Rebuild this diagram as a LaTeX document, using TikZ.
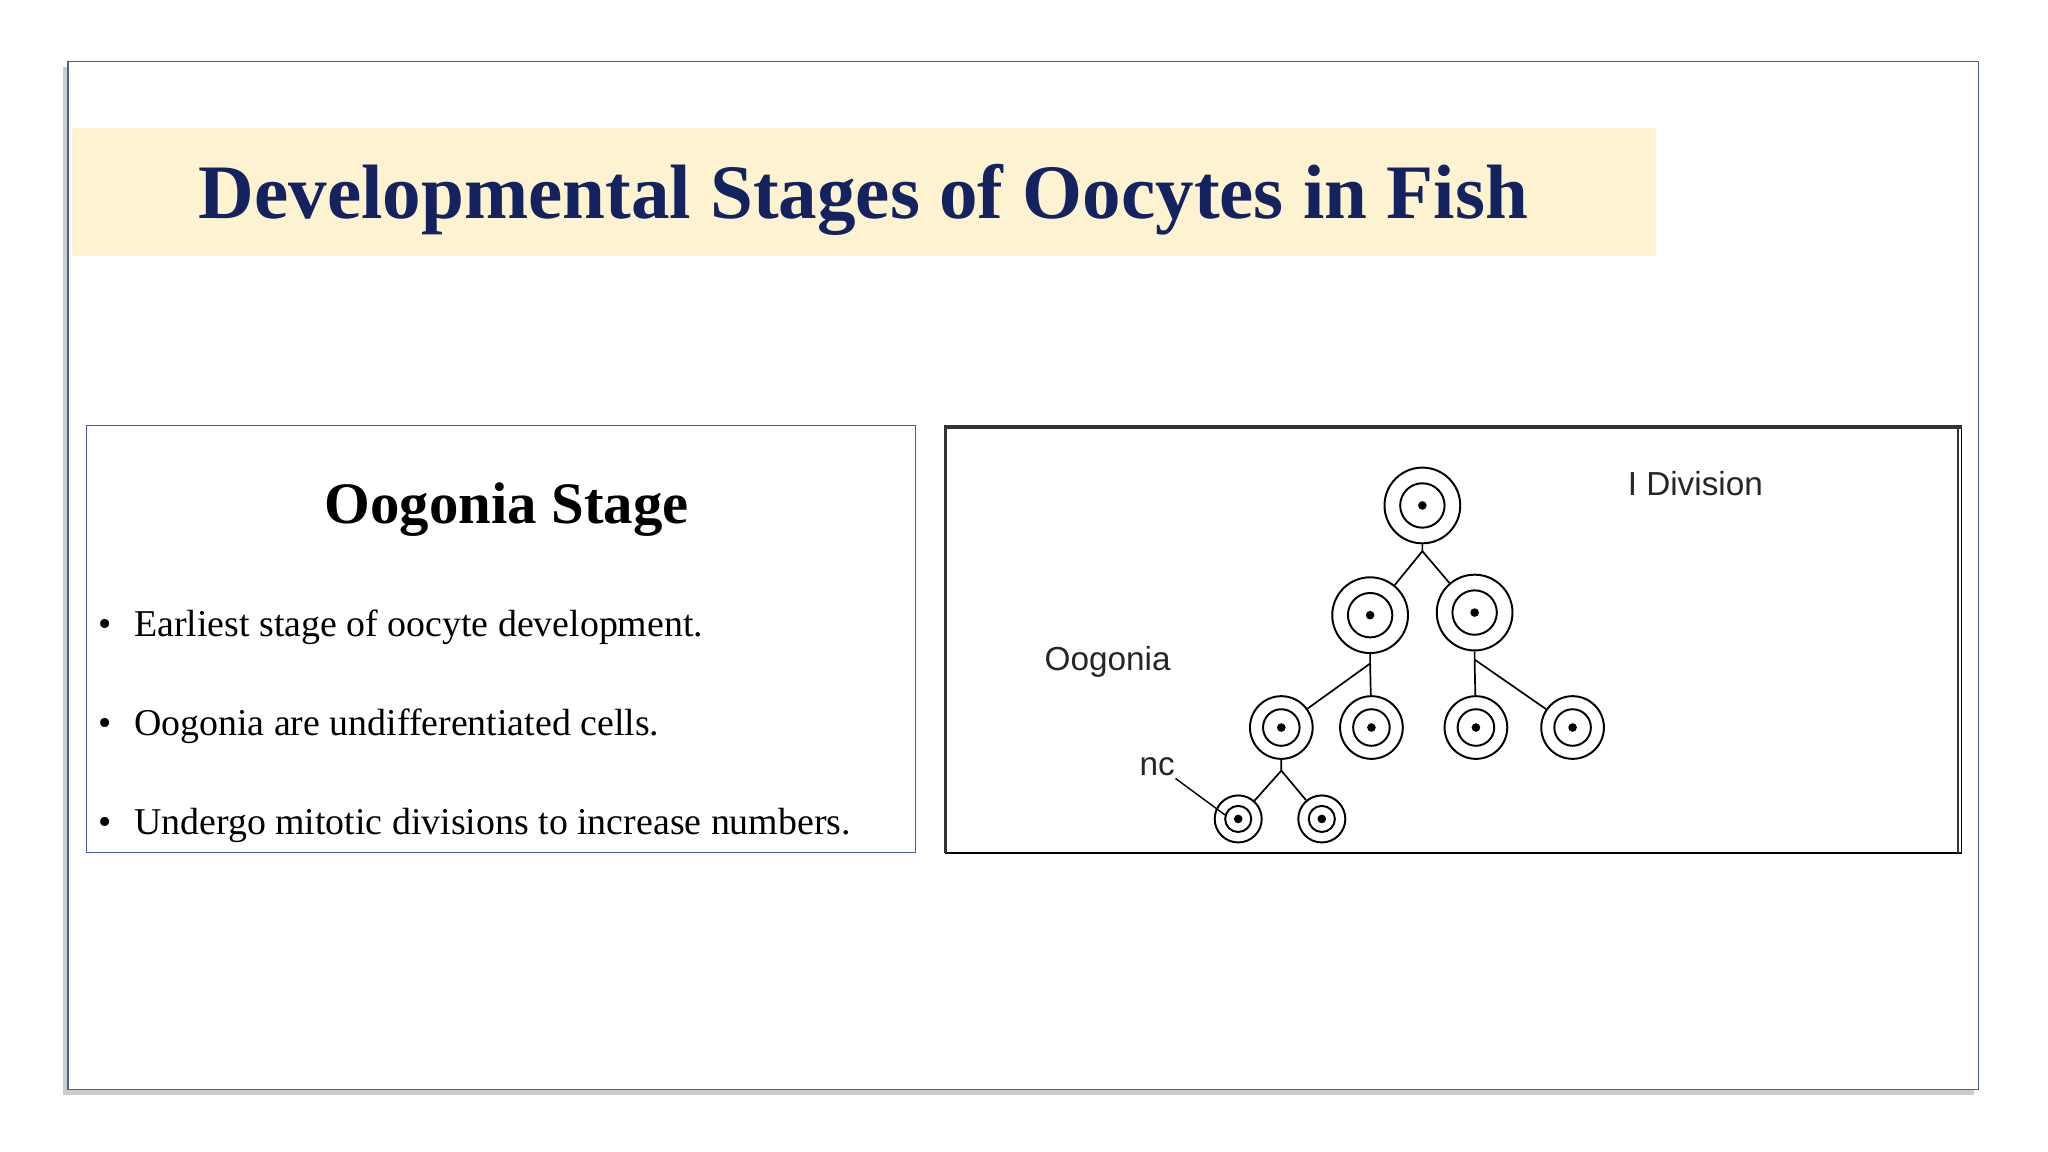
\documentclass[tikz,border=0pt]{standalone}
\usepackage{fontspec}
\setmainfont{Liberation Serif}
\newfontfamily\arialf{Liberation Sans}
\definecolor{navy}{RGB}{20,35,95}
\definecolor{band}{RGB}{253,243,208}
\definecolor{frameblue}{RGB}{70,95,160}
\tikzset{cellO/.style={circle,draw=black,line width=1.5pt,inner sep=0pt},
 lbl/.style={font=\arialf\fontsize{25.5}{30}\selectfont,text=black!85},
 bul/.style={anchor=west,font=\fontsize{29}{34}\selectfont}}
\newcommand{\cellat}[4]{% name, pos, outer radius, inner radius
 \node[cellO,minimum size=#3*2pt] (#1) at (#2) {};
 \node[cellO,minimum size=#4*2pt] at (#2) {};
 \fill (#2) circle (3.3pt);}
\begin{document}
\begin{tikzpicture}[x=1pt,y=-1pt]
\useasboundingbox (0,0) rectangle (1568,882);
\fill[black!20] (48,51) rectangle (1511,838);
\draw[frameblue,line width=1pt,fill=white] (52,47) rectangle (1515,834);
\fill[band] (55,98) rectangle (1268,196);
\node[font=\bfseries\fontsize{59}{66}\selectfont,text=navy] (title) at (661,153) {Developmental Stages of Oocytes in Fish};
\draw[frameblue,line width=0.8pt] (66,326) rectangle (701,653);
\node[font=\bfseries\fontsize{45}{52}\selectfont] (st) at (388,390) {Oogonia Stage};
\node[bul] (b1) at (72,480) {•\hspace{17pt}Earliest stage of oocyte development.};
\node[bul] (b2) at (72,556) {•\hspace{17pt}Oogonia are undifferentiated cells.};
\node[bul] (b3) at (72,632) {•\hspace{17pt}Undergo mitotic divisions to increase numbers.};
\draw[black,line width=1pt] (724,326) rectangle (1502,653);
\draw[black!80,line width=2.5pt] (724,653) -- (724,327) -- (1502,327);
\draw[black!80,line width=2pt] (1499,327) -- (1499,653);
\cellat{c0}{1089,387}{29}{17}
\cellat{c1}{1049,471}{29}{17}
\cellat{c2}{1129,469}{29}{17}
\cellat{c3}{981,557}{24}{14}
\cellat{c4}{1050,557}{24}{14}
\cellat{c5}{1130,557}{24}{14}
\cellat{c6}{1204,557}{24}{14}
\cellat{c7}{948,627}{18}{10}
\cellat{c8}{1012,627}{18}{10}
\coordinate (j0) at (1089,422);
\coordinate (j1) at (1049,508);
\coordinate (j2) at (1129,505);
\coordinate (j3) at (981,590);
\draw[line width=1.3pt] (c0) -- (j0) -- (c1); \draw[line width=1.3pt] (j0) -- (c2);
\draw[line width=1.3pt] (c1) -- (j1) -- (c3); \draw[line width=1.3pt] (j1) -- (c4);
\draw[line width=1.3pt] (c2) -- (j2) -- (c5); \draw[line width=1.3pt] (j2) -- (c6);
\draw[line width=1.3pt] (c3) -- (j3) -- (c7); \draw[line width=1.3pt] (j3) -- (c8);
\node[lbl] (og) at (848,507) {Oogonia};
\node[lbl] (div) at (1298,370) {I Division};
\node[lbl] (nc) at (886,587) {nc};
\coordinate (ncend) at (938,624);
\draw[line width=1.1pt] (900,596) -- (ncend);
\end{tikzpicture}
\end{document}
